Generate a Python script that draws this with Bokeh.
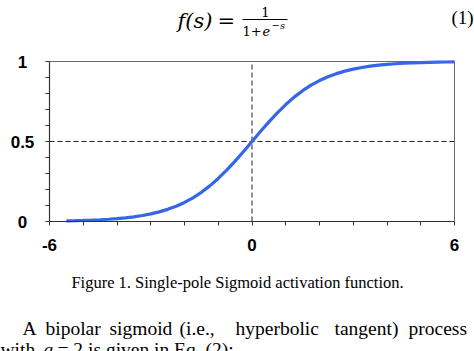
from bokeh.plotting import figure
from bokeh.models import Range1d, FixedTicker, Label, Arrow, LinearAxis
from bokeh.core.properties import value
from bokeh.embed import file_html
from bokeh.resources import INLINE

# ---- data ----
s_values = [-5.5, -5.25, -5.0, -4.75, -4.5, -4.25, -4.0, -3.75, -3.5, -3.25, -3.0, -2.75,
            -2.5, -2.25, -2.0, -1.75, -1.5, -1.25, -1.0, -0.75, -0.5, -0.25, 0.0,
            0.25, 0.5, 0.75, 1.0, 1.25, 1.5, 1.75, 2.0, 2.25, 2.5, 2.75, 3.0, 3.25,
            3.5, 3.75, 4.0, 4.25, 4.5, 4.75, 5.0, 5.25, 5.5, 5.75, 6.0]
f_values = [0.0041, 0.0052, 0.0067, 0.0086, 0.0110, 0.0141, 0.0180, 0.0230, 0.0293,
            0.0373, 0.0474, 0.0601, 0.0759, 0.0954, 0.1192, 0.1481, 0.1824, 0.2227,
            0.2689, 0.3208, 0.3775, 0.4378, 0.5000, 0.5622, 0.6225, 0.6792, 0.7311,
            0.7773, 0.8176, 0.8520, 0.8808, 0.9047, 0.9241, 0.9399, 0.9526, 0.9627,
            0.9707, 0.9770, 0.9820, 0.9859, 0.9890, 0.9914, 0.9933, 0.9948, 0.9959,
            0.9968, 0.9975]
x_tick_labels = [-6, 0, 6]
x_tick_text = ["-6", "0", "6"]
x_minor = [-5, -4, -3, -2, -1, 1, 2, 3, 4, 5]
y_tick_values = [0, 0.5, 1]
y_tick_text = ["0", "0.5", "1"]
y_all_ticks = [0, 0.1, 0.2, 0.3, 0.4, 0.5, 0.6, 0.7, 0.8, 0.9, 1.0]
ref_x = 0
ref_y = 0.5
caption = "Figure 1. Single-pole Sigmoid activation function."
body_line1 = ["A", "bipolar", "sigmoid", "(i.e.,", "hyperbolic", "tangent)", "process"]

W, H = 474, 351
# chart region inside the page picture (pixels)
PL, PR, PT, PB = 49, 454, 61, 221
x_lo, x_hi = x_tick_labels[0], x_tick_labels[-1]
y_lo, y_hi = y_tick_values[0], y_tick_values[-1]
sx = (PR - PL) / (x_hi - x_lo)
sy = (PB - PT) / (y_hi - y_lo)

def X(px):
    return x_lo + (px - PL) / sx

def Y(py):
    return y_lo + (PB - py) / sy

p = figure(width=W, height=H, output_backend="svg", toolbar_location=None,
           x_range=Range1d(X(0), X(W)), y_range=Range1d(Y(H), Y(0)),
           x_axis_location=None, y_axis_location=None,
           min_border=0, min_border_left=0, min_border_right=0,
           min_border_top=0, min_border_bottom=0)
p.background_fill_color = "white"
p.border_fill_color = "white"
p.outline_line_color = None
p.grid.visible = False

def style_axis(ax, color):
    ax.axis_line_color = color
    ax.axis_line_width = 1.2
    ax.major_tick_line_color = color
    ax.minor_tick_line_color = color
    ax.major_tick_in = 0
    ax.major_tick_out = 4
    ax.minor_tick_in = 0
    ax.minor_tick_out = 4
    ax.major_label_text_font = "Liberation Sans"
    ax.major_label_text_font_style = "bold"
    ax.major_label_text_font_size = "17px"
    ax.major_label_text_color = "black"

xaxis = LinearAxis(fixed_location=y_lo, bounds=(x_lo, x_hi),
                   ticker=FixedTicker(ticks=x_tick_labels, minor_ticks=x_minor))
style_axis(xaxis, "#333333")
xaxis.major_label_standoff = 13
xaxis.major_label_overrides = dict(zip(x_tick_labels, x_tick_text))
p.add_layout(xaxis, "below")

yaxis = LinearAxis(fixed_location=x_lo, bounds=(y_lo, y_hi),
                   ticker=FixedTicker(ticks=[], minor_ticks=y_all_ticks))
style_axis(yaxis, "#333333")
p.add_layout(yaxis, "left")

top_axis = LinearAxis(fixed_location=y_hi, bounds=(x_lo, x_hi),
                      ticker=FixedTicker(ticks=[], minor_ticks=[]))
style_axis(top_axis, "#6a6a6a")
top_axis.axis_line_width = 1
p.add_layout(top_axis, "above")

right_axis = LinearAxis(fixed_location=x_hi, bounds=(y_lo, y_hi),
                        ticker=FixedTicker(ticks=[], minor_ticks=[]))
style_axis(right_axis, "#6a6a6a")
right_axis.axis_line_width = 1
p.add_layout(right_axis, "right")

# y tick labels
p.text(x=[x_lo] * len(y_tick_values), y=y_tick_values, text=y_tick_text,
       x_offset=-27, text_align="center", text_baseline="middle",
       text_font=value("Liberation Sans"), text_font_style="bold",
       text_font_size="17px", text_color="black")

# dashed reference lines
p.segment(x0=[x_lo, ref_x], y0=[ref_y, y_lo], x1=[x_hi, ref_x], y1=[ref_y, y_hi],
          line_color="#222222", line_width=1, line_dash="5 3")

p.line(s_values, f_values, line_color="#3566e8", line_width=3.2)

def lab(px, py, text, size, font="Liberation Serif", style="normal", align="left"):
    p.add_layout(Label(x=X(px), y=Y(py), text=text, text_font=font,
                       text_font_size=f"{size}px", text_font_style=style,
                       text_align=align, text_baseline="middle", text_color="black"))

# equation
lab(177, 20, "f(s)", 21, font="DejaVu Serif", style="italic")
lab(217, 20, "=", 21, font="DejaVu Serif")
lab(265, 11, "1", 13, font="DejaVu Serif", align="center")
p.add_layout(Arrow(end=None, start=None, x_start=X(242), y_start=Y(19), x_end=X(287),
                   y_end=Y(19), line_color="black", line_width=1.2))
lab(242, 30, "1+", 13, font="DejaVu Serif")
lab(262, 30, "e", 13, font="DejaVu Serif", style="italic")
lab(271, 25, "\u2212s", 10, font="DejaVu Serif", style="italic")
lab(451, 17, "(1)", 19)

# caption
lab(237, 282, caption, 16.5, align="center")

# body text
body_x = [22, 45, 109, 179, 235, 334, 408]
for bx, w in zip(body_x, body_line1):
    lab(bx, 328, w, 19.5)
lab(0, 349, "with", 19.5)
lab(43, 349, "a", 19.5, style="italic")
lab(57, 349, "= 2 is given in Eq. (2):", 19.5)

open("out.html", "w").write(file_html(p, INLINE))
